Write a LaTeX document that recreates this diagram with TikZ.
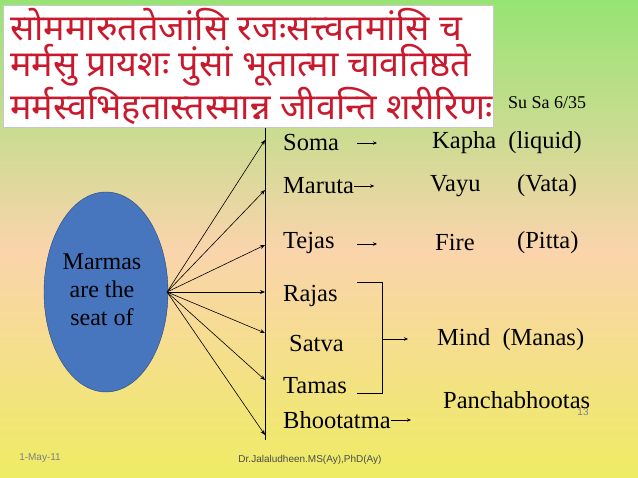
\documentclass[tikz,border=0pt]{standalone}
\usepackage{fontspec}
\setmainfont{Liberation Serif}
\newfontfamily\deva[Script=Devanagari]{Noto Sans}
\newfontfamily\sans{Liberation Sans}
\usetikzlibrary{arrows.meta,shapes.geometric}
\begin{document}
\begin{tikzpicture}[x=1pt,y=-1pt,
  lbl/.style={anchor=west,inner sep=0pt,font=\fontsize{24.5}{28}\selectfont},
  ar/.style={-{Stealth[length=5pt,width=4pt]},line width=0.6pt},
  sm/.style={-{Stealth[length=4pt,width=3.5pt]},line width=0.7pt}]
\useasboundingbox (0,0) rectangle (638,478);
\shade[top color={rgb,255:red,150;green,228;blue,115},bottom color={rgb,255:red,250;green,212;blue,172}] (0,0) rectangle (638,250);
\shade[top color={rgb,255:red,250;green,212;blue,172},bottom color={rgb,255:red,238;green,236;blue,100}] (0,249.5) rectangle (638,478);
\node[fill=white,draw={rgb,255:red,200;green,200;blue,200},minimum width=490,minimum height=122,anchor=north west,inner sep=0pt] (box) at (3,5) {};
\node[anchor=west,text={rgb,255:red,200;green,25;blue,45},font=\deva\fontsize{36}{36}\selectfont,align=left,inner sep=0pt] (sl) at (10,66)
{सोममारुततेजांसि रजःसत्त्वतमांसि च\\मर्मसु प्रायशः पुंसां भूतात्मा चावतिष्ठते\\मर्मस्वभिहतास्तस्मान्न जीवन्ति शरीरिणः};
\node[anchor=west,font=\fontsize{18}{20}\selectfont,inner sep=0pt] (ref) at (508,103) {Su Sa 6/35};
\node[ellipse,fill={rgb,255:red,72;green,118;blue,190},draw={rgb,255:red,40;green,70;blue,120},minimum width=124,minimum height=200,inner sep=0pt] (m) at (106,292) {};
\node[font=\fontsize{24}{28}\selectfont,align=center] (mt) at (102,290) {Marmas\\are the\\seat of};
\coordinate (o) at (167,292);
\coordinate (vt) at (265,128);
\coordinate (vb) at (265,440);
\draw[line width=0.7pt] (vt) -- (vb);
\foreach \y/\n in {140/a,190/b,245/c,292/d,333/e,380/f,435/g}{
  \coordinate (\n) at (265,\y);
  \draw[ar] (o) -- (\n);
}
\node[lbl] (soma) at (283,143) {Soma};
\node[lbl] (maruta) at (283,186) {Maruta};
\node[lbl] (tejas) at (283,243) {Tejas};
\node[lbl] (rajas) at (283,296) {Rajas};
\node[lbl] (satva) at (289,344) {Satva};
\node[lbl] (tamas) at (283,386) {Tamas};
\node[lbl] (bhoot) at (283,420) {Bhootatma};
\node[lbl] (kapha) at (432,143) {Kapha\ \ (liquid)};
\node[lbl] (vayu) at (430,186) {Vayu};
\node[lbl] (vata) at (517,186) {(Vata)};
\node[lbl] (fire) at (435,243) {Fire};
\node[lbl] (pitta) at (517,243) {(Pitta)};
\node[lbl] (mind) at (437,340) {Mind\ \ (Manas)};
\node[lbl] (pancha) at (443,400) {Panchabhootas};
\draw[sm] (357,143) -- (377,143);
\draw[sm] (maruta.east) -- ++(20,0);
\draw[sm] (357,244) -- (377,244);
\draw[sm] (bhoot.east) -- ++(20,0);
\coordinate (bt) at (357,282); \coordinate (bb) at (357,393);
\draw[line width=0.7pt] (bt) -- (382,282) -- (382,393) -- (bb);
\draw[sm] (382,339) -- (408,339);
\node[font=\sans\fontsize{10}{12}\selectfont,text=gray] (date) at (40,458) {1-May-11};
\node[font=\sans\fontsize{10}{12}\selectfont,text=black!70] (auth) at (310,460) {Dr.Jalaludheen.MS(Ay),PhD(Ay)};
\node[font=\sans\fontsize{10}{12}\selectfont,text=gray] (pg) at (583,412) {13};
\end{tikzpicture}
\end{document}
